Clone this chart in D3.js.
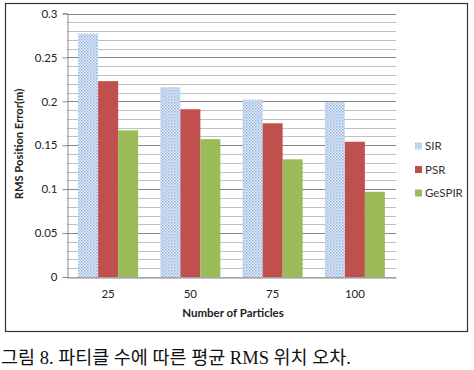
<!DOCTYPE html>
<html><head><meta charset="utf-8">
<script src="https://cdn.jsdelivr.net/npm/d3@7"></script>
<style>body{margin:0;background:#fff;} svg{display:block;}</style>
</head><body>
<svg id="c" width="474" height="370"></svg>
<script>
const categories = ["25", "50", "75", "100"];
const seriesNames = ["SIR", "PSR", "GeSPIR"];
const sirValues = [0.277, 0.216, 0.202, 0.199];
const psrValues = [0.223, 0.191, 0.175, 0.154];
const gespirValues = [0.167, 0.157, 0.134, 0.097];
const yTicks = [0, 0.05, 0.1, 0.15, 0.2, 0.25, 0.3];
const seriesValues = [sirValues, psrValues, gespirValues];

(function(){
const svg = d3.select("#c");
const font = "Lato, 'Open Sans', sans-serif";
const defs = svg.append("defs");
const pat = defs.append("pattern").attr("id","dots").attr("patternUnits","userSpaceOnUse")
  .attr("width",3).attr("height",3);
pat.append("rect").attr("width",3).attr("height",3).attr("fill","#e6eef9");
pat.append("rect").attr("x",0).attr("y",0).attr("width",1.5).attr("height",1.5).attr("fill","#8fb0df");
pat.append("rect").attr("x",1.5).attr("y",1.5).attr("width",1.5).attr("height",1.5).attr("fill","#a9c2e6");
const fills = ["url(#dots)", "#c0504d", "#9bbb59"];

// outer frame
svg.append("rect").attr("x",5.5).attr("y",3.5).attr("width",462).attr("height",328)
  .attr("fill","#fff").attr("stroke","#333").attr("stroke-width",1.2);

const pl = 67, pr = 396, pt = 13.5, pb = 277;
const y = d3.scaleLinear().domain([0, 0.3]).range([pb, pt]);
const x = d3.scaleBand().domain(categories).range([pl, pr]);
const xs = d3.scaleBand().domain(seriesNames).range([0, 60]);

// minor grid
const minor = d3.range(0, 0.3001, 0.01);
svg.append("g").selectAll("line").data(minor).join("line")
  .attr("x1", pl).attr("x2", pr)
  .attr("y1", d => Math.round(y(d)) + 0.5).attr("y2", d => Math.round(y(d)) + 0.5)
  .attr("stroke", "#c0c0c0").attr("stroke-width", 1);
svg.append("g").selectAll("line").data(yTicks.slice(1)).join("line")
  .attr("x1", pl).attr("x2", pr)
  .attr("y1", d => Math.round(y(d)) + 0.5).attr("y2", d => Math.round(y(d)) + 0.5)
  .attr("stroke", "#868686").attr("stroke-width", 1);

// bars
seriesNames.forEach((s, si) => {
  svg.append("g").selectAll("rect").data(seriesValues[si]).join("rect")
    .attr("x", (d, i) => x(categories[i]) + (x.bandwidth() - 60) / 2 + xs(s))
    .attr("width", xs.bandwidth())
    .attr("y", d => y(d)).attr("height", d => y(0) - y(d))
    .attr("fill", fills[si]);
});

// y axis
const yAxis = svg.append("g").attr("transform", `translate(${pl+0.5},0)`)
  .call(d3.axisLeft(y).tickValues(yTicks).tickFormat(d => String(d)).tickSize(5).tickPadding(5));
yAxis.select(".domain").attr("stroke", "#888");
yAxis.selectAll(".tick line").attr("stroke", "#888");
yAxis.selectAll("text").attr("font-family", font).attr("font-size", 11.5).attr("fill", "#222");
// x axis baseline
const xAxis = svg.append("g").attr("transform", `translate(0,${pb+0.5})`)
  .call(d3.axisBottom(x).tickSize(0).tickPadding(12));
xAxis.select(".domain").attr("stroke", "#888");
xAxis.selectAll("text").attr("font-family", font).attr("font-size", 11.5).attr("fill", "#222");

// axis titles
svg.append("text").attr("x", 233).attr("y", 317).attr("text-anchor", "middle")
  .attr("font-family", font).attr("font-weight", "bold").attr("font-size", 11.5).attr("fill", "#222")
  .text("Number of Particles");
svg.append("text").attr("transform", "translate(23,144) rotate(-90)").attr("text-anchor", "middle")
  .attr("font-family", font).attr("font-weight", "bold").attr("font-size", 11.2).attr("fill", "#222")
  .text("RMS Position Error(m)");

// legend
const lg = svg.append("g").selectAll("g").data(seriesNames).join("g")
  .attr("transform", (d, i) => `translate(415,${146 + i * 23.5})`);
lg.append("rect").attr("x", 0).attr("y", -3.5).attr("width", 7).attr("height", 7)
  .attr("fill", (d, i) => fills[i]);
lg.append("text").attr("x", 10).attr("y", 4).attr("font-family", font).attr("font-size", 11.5)
  .attr("fill", "#333").text(d => d);

// caption
svg.append("text").attr("x", 1).attr("y", 364)
  .attr("font-family", "'Liberation Serif', 'Noto Sans CJK KR', serif").attr("font-size", 18.5).attr("fill", "#111")
  .text("그림 8. 파티클 수에 따른 평균 RMS 위치 오차.");
})();
</script>
</body></html>
